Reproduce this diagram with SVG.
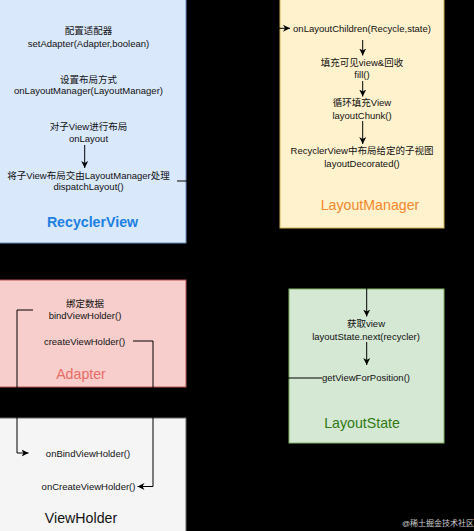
<svg xmlns="http://www.w3.org/2000/svg" width="474" height="531" viewBox="0 0 474 531">
<style>
text{font-family:"Liberation Sans","Noto Sans CJK SC",sans-serif;fill:#111;text-anchor:middle}
.t{font-size:9.5px}
.h{font-size:14.2px}
.c{fill:none;stroke:#000;stroke-width:1}
</style>
<defs>
<marker id="a" markerWidth="8" markerHeight="8" refX="7" refY="4" orient="auto" markerUnits="userSpaceOnUse">
<path d="M0,0.5 L7,4 L0,7.5 L2,4 Z" fill="#000"/>
</marker>
</defs>
<rect width="474" height="531" fill="#000"/>
<g id="recyclerview">
<rect x="-1" y="-1" width="187" height="244" fill="#dae8fc" stroke="#6c8ebf"/>
<text class="t" x="88.5" y="34">配置适配器</text>
<text class="t" x="88.5" y="47">setAdapter(Adapter,boolean)</text>
<text class="t" x="88.5" y="82.5">设置布局方式</text>
<text class="t" x="88.5" y="94">onLayoutManager(LayoutManager)</text>
<text class="t" x="88.5" y="130">对子View进行布局</text>
<text class="t" x="88.5" y="142">onLayout</text>
<text class="t" x="88.5" y="178.5">将子View布局交由LayoutManager处理</text>
<text class="t" x="88.5" y="190">dispatchLayout()</text>
<text class="h" x="92.5" y="227" style="font-weight:bold;fill:#1b7fe3">RecyclerView</text>
</g>
<g id="layoutmanager">
<rect x="280" y="-1" width="164" height="229" fill="#fff2cc" stroke="#d6b656"/>
<text class="t" x="362" y="31.7">onLayoutChildren(Recycle,state)</text>
<text class="t" x="362" y="66">填充可见view&amp;回收</text>
<text class="t" x="362" y="78.4">fill()</text>
<text class="t" x="362" y="105.7">循环填充View</text>
<text class="t" x="362" y="119">layoutChunk()</text>
<text class="t" x="362" y="154">RecyclerView中布局给定的子视图</text>
<text class="t" x="362" y="166.7">layoutDecorated()</text>
<text class="h" x="370" y="210" style="fill:#f2882a">LayoutManager</text>
</g>
<g id="adapter">
<rect x="-1" y="280" width="187" height="107" fill="#f8cecc" stroke="#b85450"/>
<text class="t" x="85" y="306.7">绑定数据</text>
<text class="t" x="85" y="319">bindViewHolder()</text>
<text class="t" x="84.5" y="345">createViewHolder()</text>
<text class="h" x="81" y="379" style="fill:#ea6b66">Adapter</text>
</g>
<g id="layoutstate">
<rect x="289" y="289" width="155" height="154" fill="#d5e8d4" stroke="#82b366"/>
<text class="t" x="366" y="326.7">获取view</text>
<text class="t" x="366" y="339.5">layoutState.next(recycler)</text>
<text class="t" x="366" y="381">getViewForPosition()</text>
<text class="h" x="362" y="428" style="fill:#2f7a13">LayoutState</text>
</g>
<g id="viewholder">
<rect x="-1" y="418" width="187" height="114" fill="#f5f5f5" stroke="#666666"/>
<text class="t" x="88" y="456.5">onBindViewHolder()</text>
<text class="t" x="88.5" y="490">onCreateViewHolder()</text>
<text class="h" x="81" y="523">ViewHolder</text>
</g>
<g id="connectors">
<path class="c" d="M84.7,145 V168" marker-end="url(#a)"/>
<path class="c" d="M177,181 H230 V28.3 H290" marker-end="url(#a)"/>
<path class="c" d="M362.7,40 V55.5" marker-end="url(#a)"/>
<path class="c" d="M362.7,81 V96.5" marker-end="url(#a)"/>
<path class="c" d="M362.7,121 V144" marker-end="url(#a)"/>
<path class="c" d="M366.7,250 V316.5" marker-end="url(#a)"/>
<path class="c" d="M366.7,342 V365" marker-end="url(#a)"/>
<path class="c" d="M240,378 H322"/>
<path class="c" d="M33,310 H17 V453 H28.5" marker-end="url(#a)"/>
<path class="c" d="M133,341 H153 V486.5 H137.5" marker-end="url(#a)"/>
</g>
<text x="438" y="526" style="font-size:8px;fill:#cfcfcf">@稀土掘金技术社区</text>
</svg>
